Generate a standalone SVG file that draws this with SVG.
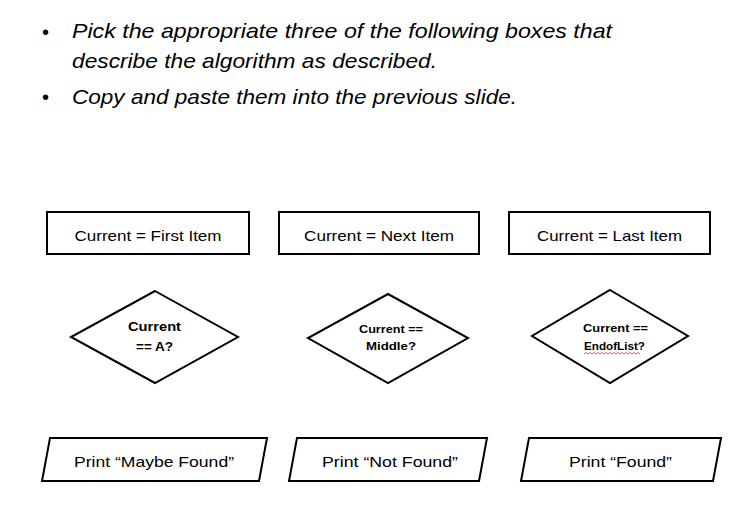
<svg xmlns="http://www.w3.org/2000/svg" width="740" height="525" viewBox="0 0 740 525">
<style>
.t{font-family:"Liberation Sans",Arial,sans-serif;fill:#000}
.h{font-size:21px;font-style:italic}
.b{font-size:15px;text-anchor:middle}
.d1{font-size:13px;font-weight:bold;text-anchor:middle}
.d2{font-size:11px;font-weight:bold;text-anchor:middle}
.s{fill:#fff;stroke:#000;stroke-width:2}
</style>
<rect width="740" height="525" fill="#fff"/>
<g id="header">
<text class="t" x="42" y="39" font-size="20">•</text>
<text class="t h" x="72" y="38" textLength="540" lengthAdjust="spacingAndGlyphs">Pick the appropriate three of the following boxes that</text>
<text class="t h" x="72" y="68" textLength="365" lengthAdjust="spacingAndGlyphs">describe the algorithm as described.</text>
<text class="t" x="42" y="104" font-size="20">•</text>
<text class="t h" x="72" y="104" textLength="445" lengthAdjust="spacingAndGlyphs">Copy and paste them into the previous slide.</text>
</g>
<g id="box-first">
<rect class="s" x="47" y="212" width="202" height="42"/>
<text class="t b" x="148" y="241" textLength="147" lengthAdjust="spacingAndGlyphs">Current = First Item</text>
</g>
<g id="box-next">
<rect class="s" x="279" y="212" width="200" height="42"/>
<text class="t b" x="379" y="241" textLength="150" lengthAdjust="spacingAndGlyphs">Current = Next Item</text>
</g>
<g id="box-last">
<rect class="s" x="509" y="212" width="201" height="42"/>
<text class="t b" x="609.5" y="241" textLength="145" lengthAdjust="spacingAndGlyphs">Current = Last Item</text>
</g>
<g id="dec-a">
<polygon class="s" points="155,291 238,337 155,383 71,337"/>
<text class="t d1" x="154.5" y="331" textLength="53" lengthAdjust="spacingAndGlyphs">Current</text>
<text class="t d1" x="154.5" y="351" textLength="37" lengthAdjust="spacingAndGlyphs">== A?</text>
</g>
<g id="dec-middle">
<polygon class="s" points="388,294 468,338 388,383 308,338"/>
<text class="t d2" x="391" y="333" textLength="64" lengthAdjust="spacingAndGlyphs">Current ==</text>
<text class="t d2" x="391" y="350" textLength="50" lengthAdjust="spacingAndGlyphs">Middle?</text>
</g>
<g id="dec-end">
<polygon class="s" points="610,290 688,336 610,383 532,336"/>
<text class="t d2" x="615.5" y="332" textLength="65" lengthAdjust="spacingAndGlyphs">Current ==</text>
<text class="t d2" x="614.5" y="350" textLength="61" lengthAdjust="spacingAndGlyphs">EndofList?</text>
<polyline fill="none" stroke="#e03030" stroke-width="0.8" points="584,354 586,352.5 588,354 590,352.5 592,354 594,352.5 596,354 598,352.5 600,354 602,352.5 604,354 606,352.5 608,354 610,352.5 612,354 614,352.5 616,354 618,352.5 620,354 622,352.5 624,354 626,352.5 628,354 630,352.5 632,354 634,352.5 636,354 638,352.5 640,354"/>
</g>
<g id="out-maybe">
<polygon class="s" points="50,438 267,438 259,481 42,481"/>
<text class="t b" x="154" y="467" textLength="160" lengthAdjust="spacingAndGlyphs">Print “Maybe Found”</text>
</g>
<g id="out-notfound">
<polygon class="s" points="297,438 487,438 479,481 289,481"/>
<text class="t b" x="390" y="467" textLength="136" lengthAdjust="spacingAndGlyphs">Print “Not Found”</text>
</g>
<g id="out-found">
<polygon class="s" points="529,438 721,438 713,481 521,481"/>
<text class="t b" x="620.5" y="467" textLength="103" lengthAdjust="spacingAndGlyphs">Print “Found”</text>
</g>
<g id="connectors"></g>
</svg>
